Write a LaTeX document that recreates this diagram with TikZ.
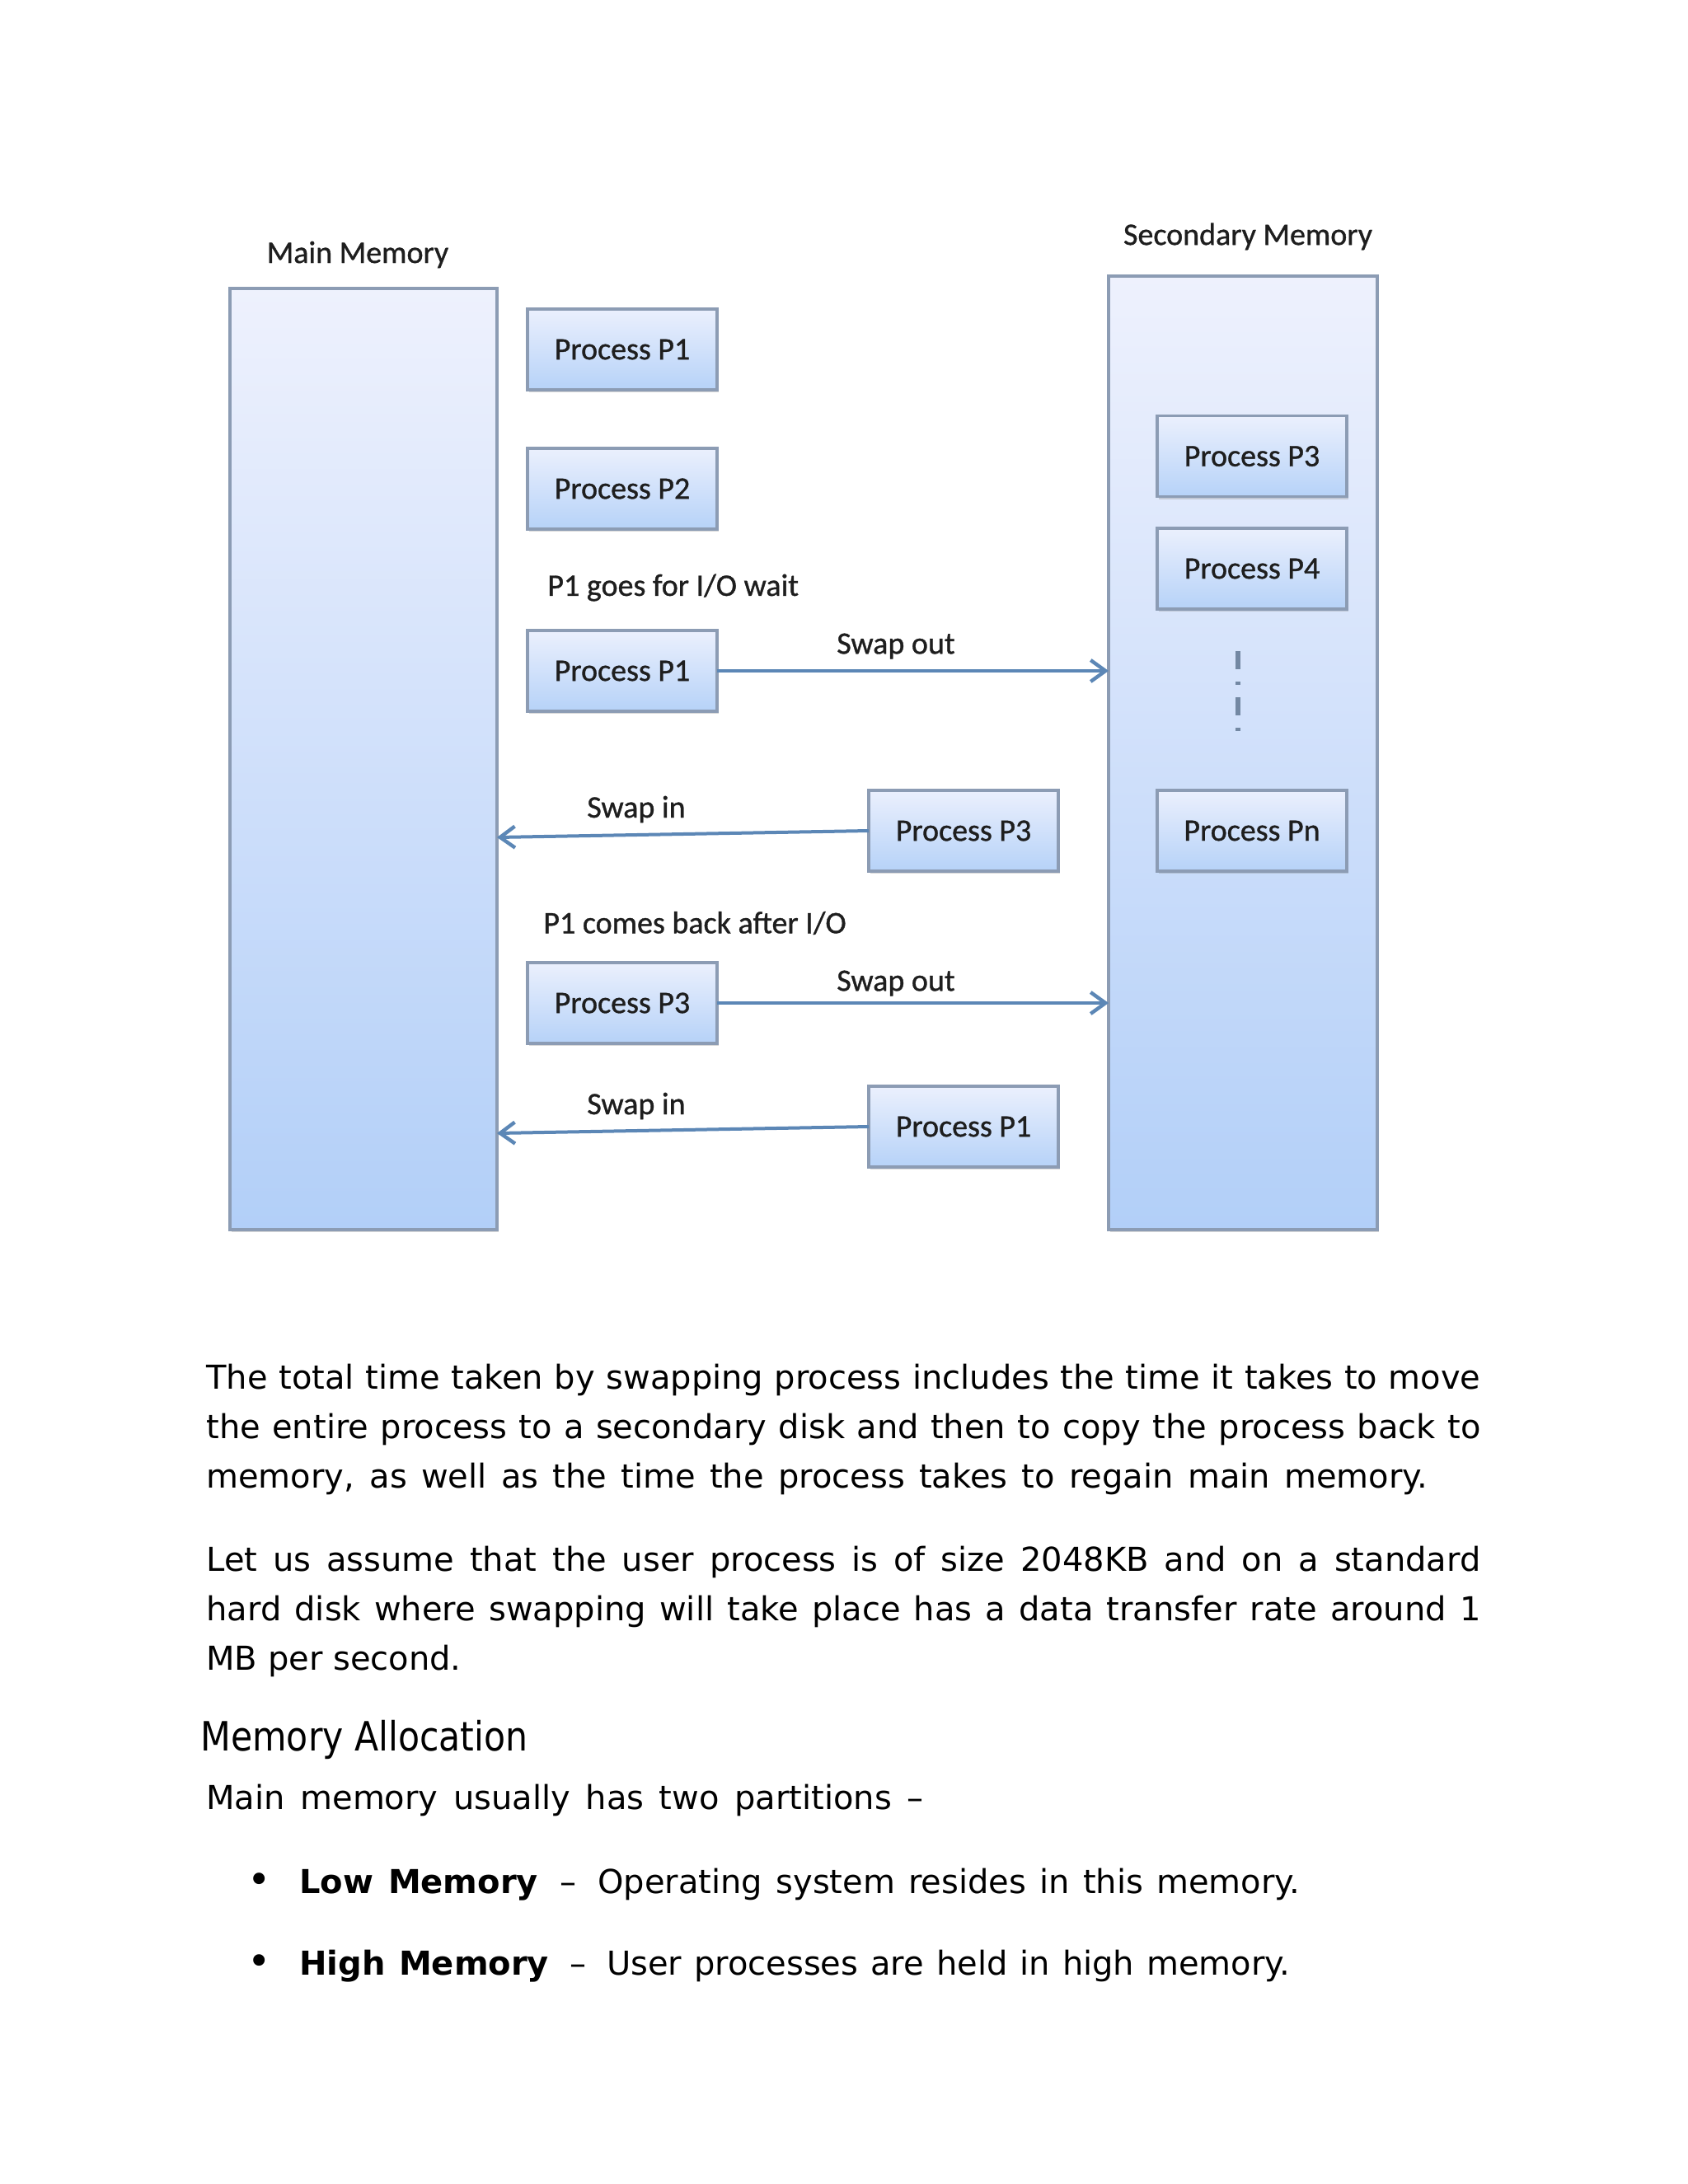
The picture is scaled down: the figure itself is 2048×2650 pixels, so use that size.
\documentclass[tikz,border=0pt]{standalone}
\usepackage{fontspec}
\setmainfont{DejaVu Sans}
\newfontfamily\diagfont[FakeBold=0.9]{Carlito}
\newfontfamily\headfont[FakeStretch=0.87]{DejaVu Sans}
\usetikzlibrary{arrows.meta,shadows}
\definecolor{memtop}{HTML}{EEF1FD}
\definecolor{membot}{HTML}{B2CFF8}
\definecolor{proctop}{HTML}{EBF0FD}
\definecolor{procbot}{HTML}{B6D2F8}
\definecolor{edgecol}{HTML}{8C9CB4}
\definecolor{arrcol}{HTML}{5C87B6}
\definecolor{dotcol}{HTML}{7388A3}
\definecolor{labcol}{HTML}{1E1E1E}
\tikzset{
  membox/.style={draw=edgecol, line width=1.6pt, top color=memtop, bottom color=membot,
    inner sep=0pt, outer sep=0pt,
    drop shadow={opacity=0.3, shadow xshift=1pt, shadow yshift=-1.5pt}},
  procbox/.style={draw=edgecol, line width=1.6pt, top color=proctop, bottom color=procbot,
    minimum width=115pt, minimum height=49pt, inner sep=0pt, outer sep=0pt,
    font=\diagfont\fontsize{19pt}{22pt}\selectfont, text=labcol,
    drop shadow={opacity=0.3, shadow xshift=1pt, shadow yshift=-1.5pt}},
  lab/.style={font=\diagfont\fontsize{19pt}{22pt}\selectfont, text=labcol, inner sep=0pt},
  arr/.style={draw=arrcol, line width=2pt, -{Straight Barb[length=9pt, width=13pt, line width=2.2pt]}},
  bodytext/.style={anchor=base west, inner sep=0pt, font=\fontsize{20pt}{30pt}\selectfont, text=black},
}
\begin{document}
\begin{tikzpicture}[x=0.5pt, y=-0.5pt]
\useasboundingbox[fill=white] (0,0) rectangle (2048,2650);

% memory columns
\node[membox, minimum width=162pt, minimum height=571pt] (main) at (441,921) {};
\node[membox, minimum width=163pt, minimum height=578.5pt] (sec) at (1508,913.5) {};
\node[lab] (mainlab) at (434,309) {Main Memory};
\node[lab] (seclab) at (1514,287) {Secondary Memory};

% left column processes
\node[procbox] (p1a) at (755,424) {Process P1};
\node[procbox] (p2a) at (755,593) {Process P2};
\node[lab, anchor=west] (wait) at (664,713) {P1 goes for I/O wait};
\node[procbox] (p1b) at (755,814) {Process P1};
\node[procbox] (p3m) at (1169,1008) {Process P3};
\node[lab, anchor=west] (back) at (659,1120) {P1 comes back after I/O};
\node[procbox] (p3b) at (755,1217) {Process P3};
\node[procbox] (p1m) at (1169,1367) {Process P1};

% secondary memory contents
\node[procbox] (s3) at (1519,553.5) {Process P3};
\node[procbox] (s4) at (1519,690) {Process P4};
\node[procbox] (sn) at (1519,1008) {Process Pn};
\coordinate (dtop) at (1502,790);
\coordinate (dbot) at (1502,892);
\draw[draw=dotcol, line width=2.6pt, dash pattern=on 11pt off 7.5pt on 2pt off 7.5pt] (dtop) -- (dbot);

% connectors
\coordinate (in1) at (603,1016);
\coordinate (in2) at (603,1375);
\draw[arr] (p1b.east) -- (p1b.east -| sec.west);
\draw[arr] (p3m.west) -- (in1);
\draw[arr] (p3b.east) -- (p3b.east -| sec.west);
\draw[arr] (p1m.west) -- (in2);
\node[lab] (so1) at (1087,784) {Swap out};
\node[lab] (si1) at (772,982) {Swap in};
\node[lab] (so2) at (1087,1193) {Swap out};
\node[lab] (si2) at (772,1342) {Swap in};

% body text
\node[bodytext] (t1) at (250,1685) {\makebox[773pt][s]{The total time taken by swapping process includes the time it takes to move}};
\node[bodytext] (t2) at (250,1745) {\makebox[773pt][s]{the entire process to a secondary disk and then to copy the process back to}};
\node[bodytext] (t3) at (250,1805) {\makebox[741pt][s]{memory, as well as the time the process takes to regain main memory.}};
\node[bodytext] (t4) at (250,1906) {\makebox[773pt][s]{Let us assume that the user process is of size 2048KB and on a standard}};
\node[bodytext] (t5) at (250,1966) {\makebox[773pt][s]{hard disk where swapping will take place has a data transfer rate around 1}};
\node[bodytext] (t6) at (250,2026) {MB per second.};
\node[anchor=base west, inner sep=0pt, font=\headfont\fontsize{24.5pt}{28pt}\selectfont] (head) at (243,2124) {Memory Allocation};
\node[bodytext] (t7) at (250,2195) {\makebox[435pt][s]{Main memory usually has two partitions –}};
\node[bodytext, anchor=base] (b1) at (315,2297) {\fontsize{24pt}{24pt}\selectfont •};
\node[bodytext] (t8) at (363,2297) {\makebox[607pt][s]{\textbf{Low Memory}\hspace{5pt} – \hspace{5pt}Operating system resides in this memory.}};
\node[bodytext, anchor=base] (b2) at (315,2396) {\fontsize{24pt}{24pt}\selectfont •};
\node[bodytext] (t9) at (363,2396) {\makebox[601pt][s]{\textbf{High Memory}\hspace{5pt} – \hspace{5pt}User processes are held in high memory.}};
\end{tikzpicture}
\end{document}
